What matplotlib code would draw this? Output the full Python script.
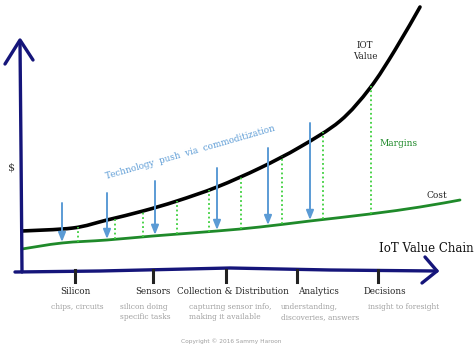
import matplotlib
matplotlib.use("Agg")
import matplotlib.pyplot as plt
from matplotlib.path import Path
from matplotlib.patches import PathPatch
import numpy as np

# ---- data (chart units: x along value chain, y in $ screen units) ----
value_x = [22, 73, 107, 143, 177, 217, 260, 300, 340, 370, 395, 420]
value_y = [231, 228, 220, 211, 201, 187, 168, 147, 121, 88, 50, 7]
cost_x = [22, 62, 107, 153, 217, 260, 310, 370, 420, 460]
cost_y = [249, 243, 240, 236, 231, 227, 221, 214, 207, 200]
margin_x = [78, 115, 143, 177, 209, 241, 282, 323, 371]
push_x = [62, 107, 155, 217, 268, 310]
push_top = [203, 193, 181, 168, 148, 123]

stages = ["Silicon", "Sensors", "Collection & Distribution", "Analytics", "Decisions"]
stage_tick_x = [75, 153, 226, 297, 378]
stage_label_x = [75, 153, 233, 318, 385]
stage_desc = ["chips, circuits", "silicon doing\nspecific tasks",
              "capturing sensor info,\nmaking it available",
              "understanding,\ndiscoveries, answers", "insight to foresight"]
stage_desc_x = [51, 120, 189, 281, 368]

NAVY = "#15157a"
GREEN = "#1f8a2a"
DOT = "#3ccf3c"
BLUE = "#5b9bd5"
GRAY = "#a0a0a0"
SERIF = ["DejaVu Serif"]


def smooth_path(xs, ys):
    """Catmull-Rom spline through the points, expressed as cubic Bezier segments."""
    p = np.column_stack([xs, ys]).astype(float)
    verts = [p[0]]
    codes = [Path.MOVETO]
    n = len(p)
    for i in range(n - 1):
        p0 = p[i - 1] if i > 0 else p[i]
        p1, p2 = p[i], p[i + 1]
        p3 = p[i + 2] if i + 2 < n else p[i + 1]
        c1 = p1 + (p2 - p0) / 6.0
        c2 = p2 - (p3 - p1) / 6.0
        verts += [c1, c2, p2]
        codes += [Path.CURVE4] * 3
    return Path(verts, codes)


fig = plt.figure(figsize=(4.74, 3.51), dpi=100)
ax = fig.add_axes([0, 0, 1, 1])
ax.set_xlim(0, 474)
ax.set_ylim(351, 0)
ax.axis("off")

# axes
ax.plot([22, 21, 20], [272, 150, 42], color=NAVY, lw=2.4, solid_capstyle="round")
ax.plot([5, 20, 33], [64, 40, 60], color=NAVY, lw=2.4, solid_capstyle="round", solid_joinstyle="round")
ax.plot([15, 100, 230, 330, 437], [272, 271, 268, 270, 271], color=NAVY, lw=2.4, solid_capstyle="round")
ax.plot([425, 437, 422], [257, 271, 283], color=NAVY, lw=2.4, solid_capstyle="round", solid_joinstyle="round")
for tx in stage_tick_x:
    ax.plot([tx, tx], [270, 282], color="#222222", lw=2.2)

# margins (dotted)
cost_at = np.interp(margin_x, cost_x, cost_y)
val_at = np.interp(margin_x, value_x, value_y)
for mx, c, v in zip(margin_x, cost_at, val_at):
    ax.plot([mx, mx], [c, v], color=DOT, lw=1.3, ls=(0, (1, 1.5)))

# curves
ax.add_patch(PathPatch(smooth_path(cost_x, cost_y), facecolor="none", edgecolor=GREEN,
                       lw=2.0, capstyle="round"))
ax.add_patch(PathPatch(smooth_path(value_x, value_y), facecolor="none", edgecolor="black",
                       lw=2.6, capstyle="round"))

# technology push arrows
push_end = np.interp(push_x, cost_x, cost_y)
for px, t, e in zip(push_x, push_top, push_end):
    ax.annotate("", xy=(px, e - 1), xytext=(px, t),
                arrowprops=dict(arrowstyle="-|>,head_length=0.55,head_width=0.22",
                                color=BLUE, lw=1.4, shrinkA=0, shrinkB=0))

# texts
ax.text(190, 152, "Technology  push  via  commoditization", color=BLUE, fontsize=6.3,
        family=SERIF, rotation=16, ha="center", va="center", rotation_mode="anchor")
ax.text(365, 51, "IOT\nValue", fontsize=6.3, family=SERIF, ha="center", va="center",
        color="#222222", linespacing=1.3)
ax.text(380, 144, "Margins", fontsize=6.5, family=SERIF, color=GREEN, ha="left", va="center")
ax.text(427, 195, "Cost", fontsize=6.5, family=SERIF, color="#222222", ha="left", va="center")
ax.text(12, 167, "$", fontsize=8, family=SERIF, color="#333333", ha="center", va="center")
ax.text(379, 249, "IoT Value Chain", fontsize=8.5, family=SERIF, color="#111111", ha="left", va="center")

for lbl, lx in zip(stages, stage_label_x):
    ax.text(lx, 291, lbl, fontsize=6.3, family=SERIF, color="#222222", ha="center", va="center")
for d, dx in zip(stage_desc, stage_desc_x):
    ax.text(dx, 303, d, fontsize=5.4, family=SERIF, color=GRAY, ha="left", va="top", linespacing=1.3)

ax.text(231, 341, "Copyright \u00a9 2016 Sammy Haroon", fontsize=4.2, color=GRAY,
        ha="center", va="center")

fig.savefig("out.png", dpi=100)
